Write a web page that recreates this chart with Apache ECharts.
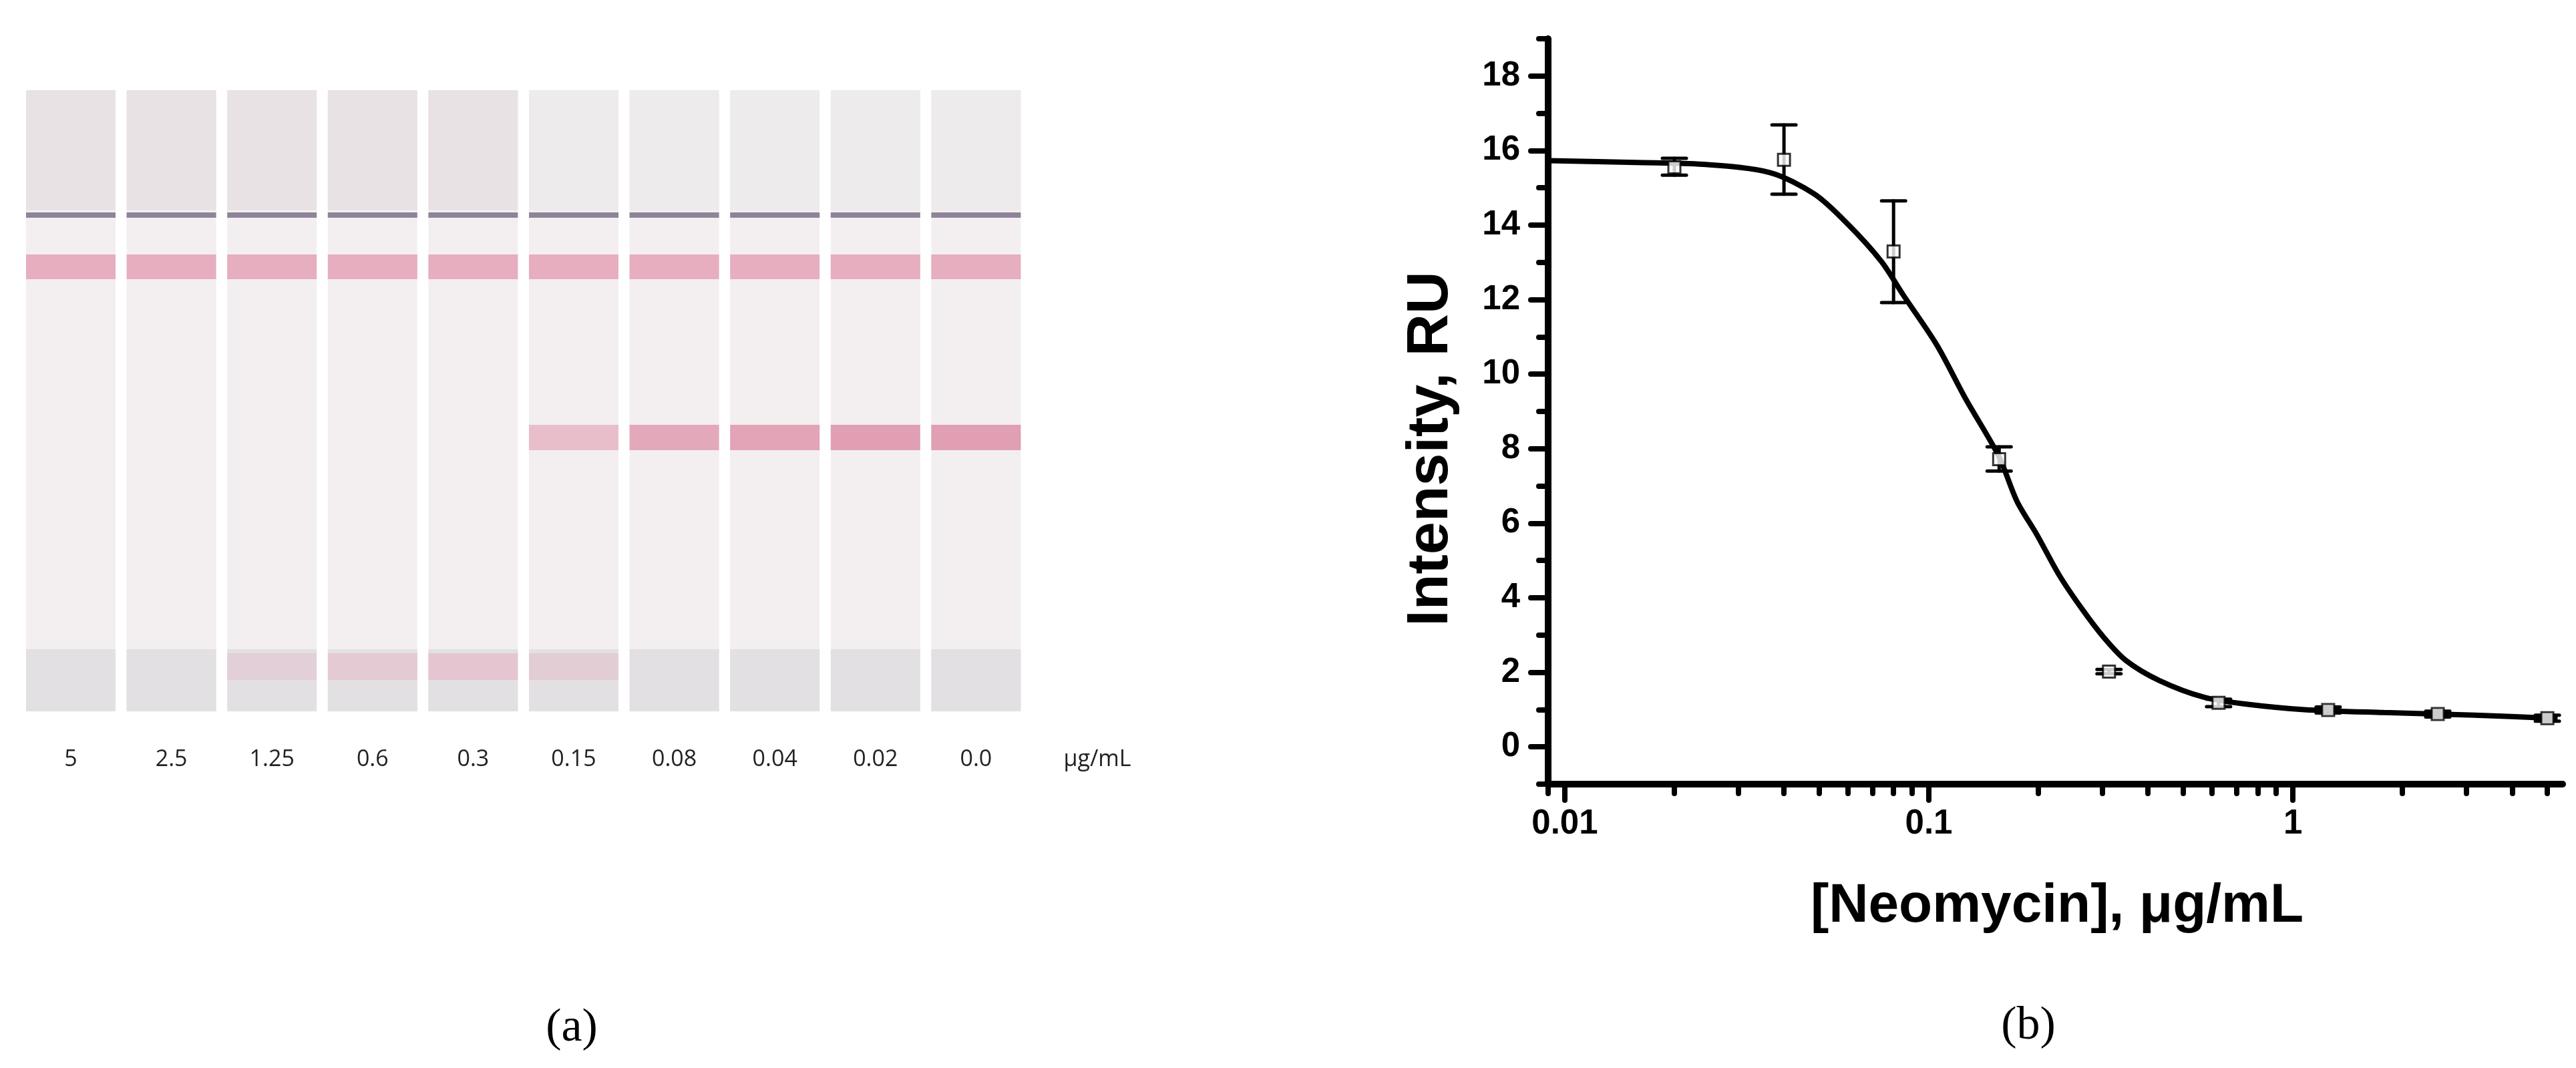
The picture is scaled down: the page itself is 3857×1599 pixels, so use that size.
<!DOCTYPE html>
<html><head><meta charset="utf-8">
<script src="https://cdn.jsdelivr.net/npm/echarts@6/dist/echarts.min.js"></script>
<style>html,body{margin:0;padding:0;background:#fff}#c{width:3857px;height:1599px}</style>
</head><body><div id="c"></div>
<script>
// ---- data ----
const conc = [0.02, 0.04, 0.08, 0.156, 0.3125, 0.625, 1.25, 2.5, 5];
const intensity = [15.55, 15.75, 13.29, 7.72, 2.02, 1.18, 0.99, 0.88, 0.77];
const errLow = [15.34, 14.83, 11.92, 7.40, 1.96, 1.08, 0.91, 0.80, 0.69];
const errHigh = [15.79, 16.69, 14.65, 8.05, 2.08, 1.28, 1.07, 0.96, 0.85];
// fitted curve: [log10(conc), intensity]
const curveLogX = [-2.046, -1.804, -1.620, -1.437, -1.314, -1.222, -1.130, -1.070, -0.978, -0.899, -0.808, -0.758, -0.703, -0.642, -0.580, -0.519, -0.459, -0.367, -0.244, -0.124, 0.031, 0.250, 0.500, 0.727];
const curveY    = [15.73, 15.68, 15.63, 15.41, 14.83, 14.02, 13.02, 12.12, 10.78, 9.34, 7.80, 6.59, 5.69, 4.61, 3.71, 2.93, 2.32, 1.78, 1.33, 1.14, 1.00, 0.92, 0.85, 0.76];
const xMajorTicks = [0.01, 0.1, 1];
const xMinorTicks = [0.009, 0.02, 0.03, 0.04, 0.05, 0.06, 0.07, 0.08, 0.09, 0.2, 0.3, 0.4, 0.5, 0.6, 0.7, 0.8, 0.9, 2, 3, 4, 5];
const yMajorTicks = [0, 2, 4, 6, 8, 10, 12, 14, 16, 18];
const yMinorTicks = [-1, 1, 3, 5, 7, 9, 11, 13, 15, 17, 19];
// panel (a): strips
const stripLabels = ['5', '2.5', '1.25', '0.6', '0.3', '0.15', '0.08', '0.04', '0.02', '0.0'];
const testLine = [0, 0, 0, 0, 0, 0.55, 0.8, 0.85, 0.9, 0.9];
const bottomPink = [0, 0, 0.3, 0.4, 0.5, 0.35, 0, 0, 0, 0];

const L = v => Math.log10(v);
const chart = echarts.init(document.getElementById('c'), null, {renderer: 'canvas'});

const graphics = [];
stripLabels.forEach((lab, i) => {
  const cx = 106 + i * 150.6, x0 = cx - 67, w = 134;
  graphics.push({type: 'rect', shape: {x: x0, y: 135, width: w, height: 930}, style: {fill: '#f3eff0'}});
  graphics.push({type: 'rect', shape: {x: x0, y: 135, width: w, height: 180}, style: {fill: i < 5 ? '#e9e2e5' : '#eeebec'}});
  graphics.push({type: 'rect', shape: {x: x0, y: 318, width: w, height: 8}, style: {fill: '#8d8499'}});
  graphics.push({type: 'rect', shape: {x: x0, y: 381, width: w, height: 37}, style: {fill: '#e6aebe'}});
  if (testLine[i] > 0) graphics.push({type: 'rect', shape: {x: x0, y: 636, width: w, height: 38}, style: {fill: 'rgba(222,150,172,' + testLine[i] + ')'}});
  graphics.push({type: 'rect', shape: {x: x0, y: 972, width: w, height: 93}, style: {fill: '#e2e0e2'}});
  if (bottomPink[i] > 0) graphics.push({type: 'rect', shape: {x: x0, y: 978, width: w, height: 40}, style: {fill: 'rgba(230,170,190,' + bottomPink[i] + ')'}});
  graphics.push({type: 'text', x: cx, y: 1137, style: {text: lab, font: '34px "Open Sans"', fill: '#222', align: 'center', verticalAlign: 'middle'}});
});
graphics.push({type: 'text', x: 1643, y: 1137, style: {text: 'μg/mL', font: '34px "Open Sans"', fill: '#222', align: 'center', verticalAlign: 'middle'}});
graphics.push({type: 'text', x: 856, y: 1540, style: {text: '(a)', font: '70px "Liberation Serif"', fill: '#000', align: 'center', verticalAlign: 'middle'}});
graphics.push({type: 'text', x: 3037, y: 1537, style: {text: '(b)', font: '70px "Liberation Serif"', fill: '#000', align: 'center', verticalAlign: 'middle'}});
graphics.push({type: 'text', x: 2143, y: 672, rotation: Math.PI / 2, style: {text: 'Intensity, RU', font: 'bold 88px "Liberation Sans"', fill: '#000', align: 'center', verticalAlign: 'middle'}});
graphics.push({type: 'text', x: 3080, y: 1357, style: {text: '[Neomycin], μg/mL', font: 'bold 82px "Liberation Sans"', fill: '#000', align: 'center', verticalAlign: 'middle'}});

const lbl = {fontFamily: 'Liberation Sans', fontWeight: 'bold', fontSize: 51, color: '#000'};
const tickStyle = {color: '#000', width: 8, cap: 'round'};
chart.setOption({
  animation: false,
  grid: {left: 2318, right: 20, top: 58, bottom: 425},
  graphic: graphics,
  xAxis: [{
    type: 'value', min: L(0.009), max: 0.741,
    axisLine: {onZero: false, lineStyle: {color: '#000', width: 10, cap: 'round'}},
    axisTick: {show: true, length: 24, lineStyle: tickStyle, customValues: xMajorTicks.map(L)},
    axisLabel: Object.assign({margin: 34, customValues: xMajorTicks.map(L), formatter: v => String(+Math.pow(10, v).toPrecision(2))}, lbl),
    splitLine: {show: false}
  }, {
    type: 'value', min: L(0.009), max: 0.741, position: 'bottom',
    axisLine: {show: false, onZero: false},
    axisTick: {show: true, length: 14, lineStyle: tickStyle, customValues: xMinorTicks.map(L)},
    axisLabel: {show: false}, splitLine: {show: false}
  }],
  yAxis: [{
    type: 'value', min: -1, max: 19,
    axisLine: {show: true, onZero: false, lineStyle: {color: '#000', width: 10, cap: 'round'}},
    axisTick: {show: true, length: 26, lineStyle: tickStyle, customValues: yMajorTicks},
    axisLabel: Object.assign({margin: 42, customValues: yMajorTicks}, lbl),
    splitLine: {show: false}
  }, {
    type: 'value', min: -1, max: 19, position: 'left',
    axisLine: {show: false, onZero: false},
    axisTick: {show: true, length: 14, lineStyle: tickStyle, customValues: yMinorTicks},
    axisLabel: {show: false}, splitLine: {show: false}
  }],
  series: [{
    type: 'line', smooth: 0.3, symbol: 'none', z: 2,
    lineStyle: {color: '#000', width: 8},
    data: curveLogX.map((x, i) => [x, curveY[i]])
  }, {
    type: 'custom', z: 3,
    data: conc.map((c, i) => [L(c), errLow[i], errHigh[i]]),
    renderItem: (params, api) => {
      const lo = api.coord([api.value(0), api.value(1)]);
      const hi = api.coord([api.value(0), api.value(2)]);
      const hw = 18;
      const st = {stroke: '#000', lineWidth: 5, lineCap: 'round'};
      return {type: 'group', children: [
        {type: 'line', shape: {x1: lo[0], y1: lo[1], x2: hi[0], y2: hi[1]}, style: st},
        {type: 'line', shape: {x1: lo[0] - hw, y1: lo[1], x2: lo[0] + hw, y2: lo[1]}, style: st},
        {type: 'line', shape: {x1: hi[0] - hw, y1: hi[1], x2: hi[0] + hw, y2: hi[1]}, style: st}
      ]};
    }
  }, {
    type: 'scatter', symbol: 'rect', symbolSize: 18, z: 4,
    itemStyle: {color: '#fff', borderColor: '#000', borderWidth: 3},
    data: conc.map((c, i) => [L(c), intensity[i]])
  }]
});
</script></body></html>
